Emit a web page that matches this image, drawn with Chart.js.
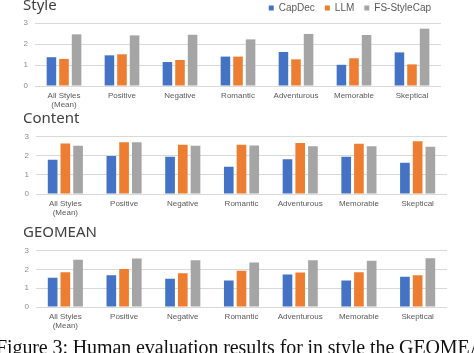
<!DOCTYPE html>
<html>
<head>
<meta charset="utf-8">
<script src="https://cdn.jsdelivr.net/npm/chart.js@4.4.1/dist/chart.umd.min.js"></script>
<style>
  html, body { margin: 0; padding: 0; background: #fff; }
  #page { position: relative; width: 474px; height: 353px; overflow: hidden; }
  #page canvas { position: absolute; left: 0; }
  .panel-title { position: absolute; left: 23px; font: 15px/15px "Noto Sans", sans-serif; color: #404040; white-space: nowrap; }
  #caption { position: absolute; left: -4px; top: 336px; font: 20px "Liberation Serif", serif; color: #111; white-space: nowrap; letter-spacing: -0.1px; }
</style>
</head>
<body>
<div id="page">
  <canvas id="styleChart" width="474" height="123" style="top:-7px"></canvas>
  <canvas id="contentChart" width="474" height="99" style="top:125px"></canvas>
  <canvas id="geoChart" width="474" height="98" style="top:239px"></canvas>
  <div class="panel-title" style="top:-3px">Style</div>
  <div class="panel-title" style="top:110px">Content</div>
  <div class="panel-title" style="top:224px">GEOMEAN</div>
  <div id="caption">Figure 3: Human evaluation results for in style the GEOMEAN</div>
</div>
<script>
// categories and series
var categories = [['All Styles', '(Mean)'], 'Positive', 'Negative', 'Romantic', 'Adventurous', 'Memorable', 'Skeptical'];
var seriesNames = ['CapDec', 'LLM', 'FS-StyleCap'];
var seriesColors = ['#4472C4', '#ED7D31', '#A5A5A5'];
var yTicks = [0, 1, 2, 3];

// Style scores
var styleCapDec = [1.37, 1.46, 1.14, 1.40, 1.62, 1.01, 1.60];
var styleLLM    = [1.29, 1.51, 1.24, 1.40, 1.27, 1.32, 1.03];
var styleFS     = [2.46, 2.41, 2.44, 2.22, 2.48, 2.43, 2.73];

// Content scores
var contentCapDec = [1.80, 1.99, 1.96, 1.43, 1.82, 1.96, 1.64];
var contentLLM    = [2.65, 2.72, 2.58, 2.58, 2.68, 2.63, 2.77];
var contentFS     = [2.53, 2.72, 2.53, 2.55, 2.51, 2.50, 2.48];

// GEOMEAN scores
var geoCapDec = [1.56, 1.70, 1.51, 1.42, 1.73, 1.41, 1.61];
var geoLLM    = [1.85, 2.03, 1.80, 1.94, 1.84, 1.85, 1.70];
var geoFS     = [2.52, 2.59, 2.50, 2.38, 2.50, 2.47, 2.60];

Chart.defaults.font.family = '"Liberation Sans", Arial, sans-serif';

function buildChart(canvasId, values, cfg) {
  var datasets = seriesNames.map(function (name, i) {
    return {
      label: name,
      data: values[i],
      backgroundColor: seriesColors[i],
      borderWidth: 0,
      categoryPercentage: 0.65,
      barPercentage: 0.76
    };
  });

  var legend = { display: false };
  if (cfg.legend) {
    legend = {
      display: true,
      position: 'top',
      align: 'end',
      labels: {
        boxWidth: 5,
        boxHeight: 5,
        padding: 10,
        color: '#595959',
        font: { size: 10 }
      }
    };
  }

  return new Chart(document.getElementById(canvasId), {
    type: 'bar',
    data: { labels: categories, datasets: datasets },
    options: {
      responsive: false,
      animation: false,
      layout: { padding: { top: cfg.padTop, right: cfg.padRight, left: 0, bottom: 0 } },
      plugins: { legend: legend, tooltip: { enabled: false } },
      scales: {
        x: {
          grid: { display: false, drawTicks: false },
          border: { display: false },
          ticks: {
            color: '#595959',
            font: { size: 8, lineHeight: 1.05 },
            padding: 6,
            maxRotation: 0,
            autoSkip: false
          },
          afterFit: function (s) { s.height = 30; }
        },
        y: {
          min: yTicks[0],
          max: yTicks[yTicks.length - 1],
          ticks: { stepSize: 1, color: '#8c8c8c', font: { size: 8 }, padding: 7 },
          grid: { color: '#d9d9d9', drawTicks: false },
          border: { display: false },
          afterFit: function (s) { s.width = cfg.axisWidth; }
        }
      }
    }
  });
}

buildChart('styleChart', [styleCapDec, styleLLM, styleFS], { legend: true, padTop: 0, padRight: 33, axisWidth: 35 });
buildChart('contentChart', [contentCapDec, contentLLM, contentFS], { legend: false, padTop: 10, padRight: 27, axisWidth: 36 });
buildChart('geoChart', [geoCapDec, geoLLM, geoFS], { legend: false, padTop: 10, padRight: 27, axisWidth: 36 });
</script>
</body>
</html>
